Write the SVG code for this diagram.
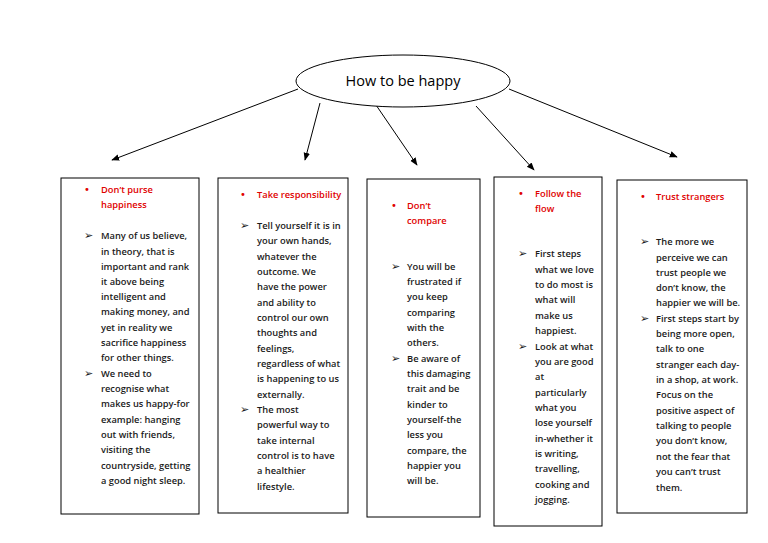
<svg xmlns="http://www.w3.org/2000/svg" width="768" height="543" viewBox="0 0 768 543">
<defs>
<marker id="ah" viewBox="0 0 10 10" refX="9" refY="5" markerWidth="8" markerHeight="8" orient="auto"><path d="M0,1 L10,5 L0,9 Z" fill="#000"/></marker>
<style>
.box{fill:#fff;stroke:#000;stroke-width:1}
.t{font-family:"Open Sans","Liberation Sans",sans-serif;font-size:9.3px;fill:#1a1a1a;font-weight:600;transform:translateY(3px)}
.h{font-family:"Open Sans","Liberation Sans",sans-serif;font-size:9.3px;fill:#e00000;font-weight:600;transform:translateY(3px)}
.b{font-family:"DejaVu Sans",sans-serif;font-size:11px;font-weight:bold;fill:#1a1a1a;transform:translateY(3px)}
.d{font-family:"DejaVu Sans",sans-serif;font-size:10px;fill:#e00000;transform:translateY(3px)}
.c{stroke:#000;stroke-width:1;fill:none;marker-end:url(#ah)}
</style>
</defs>
<rect width="768" height="543" fill="#fff"/>
<g id="connectors">
<line class="c" x1="298" y1="89" x2="112" y2="160"/>
<line class="c" x1="320" y1="103" x2="305" y2="160"/>
<line class="c" x1="376" y1="105" x2="417" y2="165"/>
<line class="c" x1="476" y1="106" x2="534" y2="170"/>
<line class="c" x1="509" y1="89" x2="677" y2="157"/>
</g>
<g id="root">
<ellipse cx="403" cy="81" rx="107" ry="26" fill="#fff" stroke="#000"/>
<text x="403" y="86" text-anchor="middle" font-family="Open Sans, Liberation Sans, sans-serif" font-size="14.5" font-weight="500" fill="#000">How to be happy</text>
</g>
<g id="n1">
<rect class="box" x="61" y="178" width="138" height="336"/>
<text class="d" x="84" y="190">•</text>
<text class="h" x="101" y="190">Don’t purse</text><text class="h" x="101" y="205">happiness</text>
<text class="b" x="84" y="236">➢</text><text class="b" x="84" y="374">➢</text>
<text class="t" x="101" y="236">Many of us believe,</text>
<text class="t" x="101" y="252">in theory, that is</text>
<text class="t" x="101" y="267">important and rank</text>
<text class="t" x="101" y="282">it above being</text>
<text class="t" x="101" y="297">intelligent and</text>
<text class="t" x="101" y="312">making money, and</text>
<text class="t" x="101" y="328">yet in reality we</text>
<text class="t" x="101" y="343">sacrifice happiness</text>
<text class="t" x="101" y="358">for other things.</text>
<text class="t" x="101" y="374">We need to</text>
<text class="t" x="101" y="389">recognise what</text>
<text class="t" x="101" y="404">makes us happy-for</text>
<text class="t" x="101" y="420">example: hanging</text>
<text class="t" x="101" y="435">out with friends,</text>
<text class="t" x="101" y="450">visiting the</text>
<text class="t" x="101" y="466">countryside, getting</text>
<text class="t" x="101" y="481">a good night sleep.</text>
</g>
<g id="n2">
<rect class="box" x="218" y="178" width="130" height="335"/>
<text class="d" x="240" y="195">•</text>
<text class="h" x="257" y="195">Take responsibility</text>
<text class="b" x="240" y="226">➢</text><text class="b" x="240" y="410">➢</text>
<text class="t" x="257" y="226">Tell yourself it is in</text>
<text class="t" x="257" y="241">your own hands,</text>
<text class="t" x="257" y="257">whatever the</text>
<text class="t" x="257" y="272">outcome. We</text>
<text class="t" x="257" y="287">have the power</text>
<text class="t" x="257" y="303">and ability to</text>
<text class="t" x="257" y="318">control our own</text>
<text class="t" x="257" y="333">thoughts and</text>
<text class="t" x="257" y="349">feelings,</text>
<text class="t" x="257" y="364">regardless of what</text>
<text class="t" x="257" y="379">is happening to us</text>
<text class="t" x="257" y="395">externally.</text>
<text class="t" x="257" y="410">The most</text>
<text class="t" x="257" y="425">powerful way to</text>
<text class="t" x="257" y="441">take internal</text>
<text class="t" x="257" y="456">control is to have</text>
<text class="t" x="257" y="471">a healthier</text>
<text class="t" x="257" y="487">lifestyle.</text>
</g>
<g id="n3">
<rect class="box" x="367" y="179" width="113" height="338"/>
<text class="d" x="391" y="206">•</text>
<text class="h" x="407" y="206">Don’t</text><text class="h" x="407" y="221">compare</text>
<text class="b" x="391" y="267">➢</text><text class="b" x="391" y="359">➢</text>
<text class="t" x="407" y="267">You will be</text>
<text class="t" x="407" y="282">frustrated if</text>
<text class="t" x="407" y="297">you keep</text>
<text class="t" x="407" y="313">comparing</text>
<text class="t" x="407" y="328">with the</text>
<text class="t" x="407" y="343">others.</text>
<text class="t" x="407" y="359">Be aware of</text>
<text class="t" x="407" y="374">this damaging</text>
<text class="t" x="407" y="389">trait and be</text>
<text class="t" x="407" y="405">kinder to</text>
<text class="t" x="407" y="420">yourself-the</text>
<text class="t" x="407" y="435">less you</text>
<text class="t" x="407" y="451">compare, the</text>
<text class="t" x="407" y="466">happier you</text>
<text class="t" x="407" y="481">will be.</text>
</g>
<g id="n4">
<rect class="box" x="494" y="177" width="108" height="349"/>
<text class="d" x="518" y="194">•</text>
<text class="h" x="535" y="194">Follow the</text><text class="h" x="535" y="209">flow</text>
<text class="b" x="518" y="254">➢</text><text class="b" x="518" y="347">➢</text>
<text class="t" x="535" y="254">First steps</text>
<text class="t" x="535" y="270">what we love</text>
<text class="t" x="535" y="285">to do most is</text>
<text class="t" x="535" y="300">what will</text>
<text class="t" x="535" y="316">make us</text>
<text class="t" x="535" y="331">happiest.</text>
<text class="t" x="535" y="347">Look at what</text>
<text class="t" x="535" y="362">you are good</text>
<text class="t" x="535" y="377">at</text>
<text class="t" x="535" y="393">particularly</text>
<text class="t" x="535" y="408">what you</text>
<text class="t" x="535" y="423">lose yourself</text>
<text class="t" x="535" y="439">in-whether it</text>
<text class="t" x="535" y="454">is writing,</text>
<text class="t" x="535" y="469">travelling,</text>
<text class="t" x="535" y="485">cooking and</text>
<text class="t" x="535" y="500">jogging.</text>
</g>
<g id="n5">
<rect class="box" x="617" y="180" width="130" height="333"/>
<text class="d" x="640" y="197">•</text>
<text class="h" x="656" y="197">Trust strangers</text>
<text class="b" x="640" y="242">➢</text><text class="b" x="640" y="319">➢</text>
<text class="t" x="656" y="242">The more we</text>
<text class="t" x="656" y="258">perceive we can</text>
<text class="t" x="656" y="273">trust people we</text>
<text class="t" x="656" y="288">don’t know, the</text>
<text class="t" x="656" y="303">happier we will be.</text>
<text class="t" x="656" y="319">First steps start by</text>
<text class="t" x="656" y="334">being more open,</text>
<text class="t" x="656" y="349">talk to one</text>
<text class="t" x="656" y="365">stranger each day-</text>
<text class="t" x="656" y="380">in a shop, at work.</text>
<text class="t" x="656" y="395">Focus on the</text>
<text class="t" x="656" y="411">positive aspect of</text>
<text class="t" x="656" y="426">talking to people</text>
<text class="t" x="656" y="441">you don’t know,</text>
<text class="t" x="656" y="457">not the fear that</text>
<text class="t" x="656" y="472">you can’t trust</text>
<text class="t" x="656" y="488">them.</text>
</g>
</svg>
